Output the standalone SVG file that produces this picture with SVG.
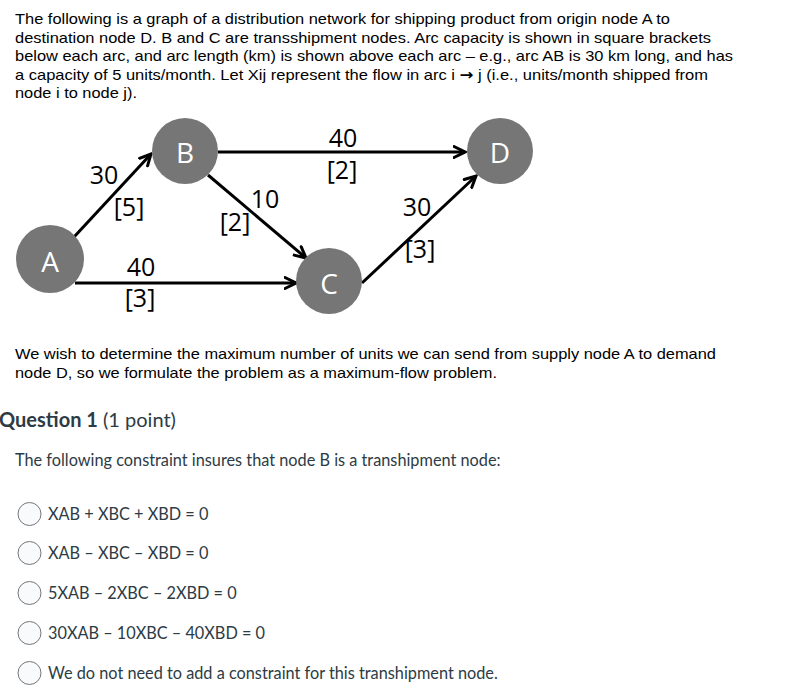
<svg xmlns="http://www.w3.org/2000/svg" width="788" height="694" viewBox="0 0 788 694">
<defs>
<style>
.p{font-family:"Liberation Sans",Arial,sans-serif;font-size:15px;fill:#000}
.arr{font-family:"DejaVu Sans",sans-serif;font-weight:bold}
.lbl{font-family:"Open Sans","Noto Sans",sans-serif;font-size:25px;fill:#000;text-anchor:middle}
.nl{font-family:"Open Sans","Noto Sans",sans-serif;font-size:28px;fill:#fff;text-anchor:middle}
.node{fill:#767676}
.arc{stroke:#000;stroke-width:3;fill:none;marker-end:url(#ah)}
.q{font-family:Lato,"Open Sans",sans-serif;fill:#2d3b45}
.opt{font-family:Lato,"Open Sans",sans-serif;font-size:16.3px;fill:#2d3b45}
.radio{fill:#f9fafc;stroke:#73777b;stroke-width:1}
</style>
<marker id="ah" viewBox="0 0 14 14" refX="12.5" refY="7" markerWidth="14" markerHeight="14" markerUnits="userSpaceOnUse" orient="auto">
<path d="M1.5,1.5 L12.5,7 L1.5,12.5" fill="none" stroke="#000" stroke-width="3" stroke-linecap="round" stroke-linejoin="miter"/>
</marker>
</defs>
<rect width="788" height="694" fill="#fff"/>
<g id="intro">
<text class="p" x="15" y="24" textLength="655" lengthAdjust="spacingAndGlyphs">The following is a graph of a distribution network for shipping product from origin node A to</text>
<text class="p" x="15" y="42.5" textLength="696" lengthAdjust="spacingAndGlyphs">destination node D. B and C are transshipment nodes. Arc capacity is shown in square brackets</text>
<text class="p" x="15" y="61" textLength="718" lengthAdjust="spacingAndGlyphs">below each arc, and arc length (km) is shown above each arc – e.g., arc AB is 30 km long, and has</text>
<text class="p" x="15" y="79.5" textLength="693" lengthAdjust="spacingAndGlyphs">a capacity of 5 units/month. Let Xij represent the flow in arc i <tspan class="arr">→</tspan> j (i.e., units/month shipped from</text>
<text class="p" x="15" y="98" textLength="122" lengthAdjust="spacingAndGlyphs">node i to node j).</text>
</g>
<g id="connectors">
<line class="arc" x1="74" y1="237" x2="151" y2="154"/>
<line class="arc" x1="218" y1="152" x2="465" y2="152"/>
<line class="arc" x1="208" y1="175" x2="306" y2="258"/>
<line class="arc" x1="75" y1="283" x2="296" y2="283"/>
<line class="arc" x1="362" y1="283" x2="476" y2="176"/>
<text class="lbl" x="104" y="184">30</text>
<text class="lbl" x="129" y="216">[5]</text>
<text class="lbl" x="343" y="147">40</text>
<text class="lbl" x="342" y="179">[2]</text>
<text class="lbl" x="265" y="208">10</text>
<text class="lbl" x="235" y="231">[2]</text>
<text class="lbl" x="141" y="276">40</text>
<text class="lbl" x="140" y="307">[3]</text>
<text class="lbl" x="417" y="216">30</text>
<text class="lbl" x="420" y="258">[3]</text>
</g>
<g id="node-A"><circle class="node" cx="50" cy="259" r="34"/><text class="nl" x="50" y="272">A</text></g>
<g id="node-B"><circle class="node" cx="185" cy="151" r="33"/><text class="nl" x="185" y="163">B</text></g>
<g id="node-C"><circle class="node" cx="329" cy="281" r="33"/><text class="nl" x="329" y="294">C</text></g>
<g id="node-D"><circle class="node" cx="500" cy="151" r="33"/><text class="nl" x="500" y="163">D</text></g>
<g id="para2">
<text class="p" x="15" y="359" textLength="701" lengthAdjust="spacingAndGlyphs">We wish to determine the maximum number of units we can send from supply node A to demand</text>
<text class="p" x="15" y="377.5" textLength="482" lengthAdjust="spacingAndGlyphs">node D, so we formulate the problem as a maximum-flow problem.</text>
</g>
<g id="question">
<text class="q" x="-1" y="427" font-size="20"><tspan font-weight="bold">Question 1</tspan> (1 point)</text>
<text class="q" x="15" y="466" font-size="16.3">The following constraint insures that node B is a transhipment node:</text>
</g>
<g id="options">
<circle class="radio" cx="29.5" cy="514" r="11.5"/><text class="opt" x="48" y="519.5">XAB + XBC + XBD = 0</text>
<circle class="radio" cx="29.5" cy="553" r="11.5"/><text class="opt" x="48" y="558.5">XAB – XBC – XBD = 0</text>
<circle class="radio" cx="29.5" cy="593" r="11.5"/><text class="opt" x="48" y="598.5">5XAB – 2XBC – 2XBD = 0</text>
<circle class="radio" cx="29.5" cy="633" r="11.5"/><text class="opt" x="48" y="638.5">30XAB – 10XBC – 40XBD = 0</text>
<circle class="radio" cx="29.5" cy="673" r="11.5"/><text class="opt" x="48" y="678.5">We do not need to add a constraint for this transhipment node.</text>
</g>
</svg>
